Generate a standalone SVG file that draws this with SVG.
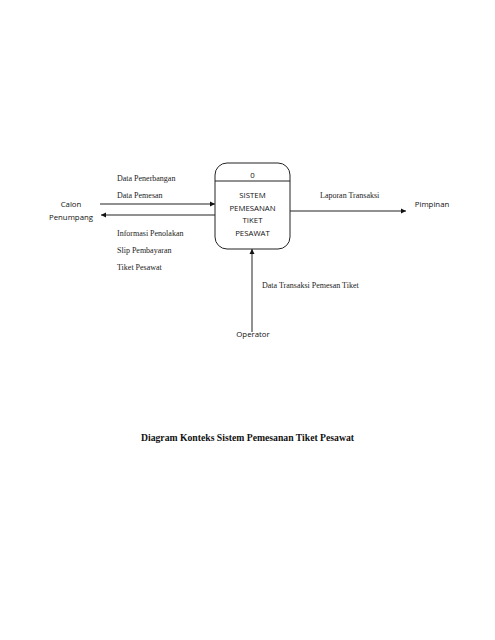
<svg xmlns="http://www.w3.org/2000/svg" width="495" height="640" viewBox="0 0 495 640">
<style>
.lbl{font-family:"Liberation Serif","Times New Roman",serif;font-size:8px;fill:#222}
.ent{font-family:"Open Sans","Liberation Sans",sans-serif;font-size:7.8px;fill:#111}
.ln{stroke:#222;stroke-width:1;fill:none}
.title{font-family:"Liberation Serif","Times New Roman",serif;font-size:9.7px;font-weight:bold;fill:#111}
</style>
<defs>
<marker id="ah" markerWidth="6" markerHeight="6" refX="5" refY="3" orient="auto" markerUnits="userSpaceOnUse">
<path d="M0,0.5 L5,3 L0,5.5 Z" fill="#111"/>
</marker>
</defs>
<rect width="495" height="640" fill="#fff"/>
<g id="connectors">
<line class="ln" x1="100" y1="204" x2="215" y2="204" marker-end="url(#ah)"/>
<line class="ln" x1="215" y1="215" x2="101" y2="215" marker-end="url(#ah)"/>
<line class="ln" x1="290" y1="211" x2="406" y2="211" marker-end="url(#ah)"/>
<line class="ln" x1="252" y1="332" x2="252" y2="249" marker-end="url(#ah)"/>
<text class="lbl" x="117" y="181">Data Penerbangan</text>
<text class="lbl" x="117" y="198">Data Pemesan</text>
<text class="lbl" x="117" y="236">Informasi Penolakan</text>
<text class="lbl" x="117" y="253">Slip Pembayaran</text>
<text class="lbl" x="117" y="270">Tiket Pesawat</text>
<text class="lbl" x="320" y="198">Laporan Transaksi</text>
<text class="lbl" x="262" y="288">Data Transaksi Pemesan Tiket</text>
</g>
<g id="process">
<rect x="215" y="163" width="75" height="86" rx="12" ry="12" fill="#fff" stroke="#222" stroke-width="1"/>
<line class="ln" x1="215" y1="181" x2="290" y2="181"/>
<text class="ent" x="252.5" y="178" text-anchor="middle">0</text>
<text class="ent" x="252.5" y="198" text-anchor="middle">SISTEM</text>
<text class="ent" x="252.5" y="210.5" text-anchor="middle">PEMESANAN</text>
<text class="ent" x="252.5" y="223" text-anchor="middle">TIKET</text>
<text class="ent" x="252.5" y="235.5" text-anchor="middle">PESAWAT</text>
</g>
<g id="calon">
<text class="ent" x="71" y="207" text-anchor="middle">Calon</text>
<text class="ent" x="71" y="220" text-anchor="middle">Penumpang</text>
</g>
<g id="pimpinan">
<text class="ent" x="432" y="207" text-anchor="middle">Pimpinan</text>
</g>
<g id="operator">
<text class="ent" x="253" y="337" text-anchor="middle">Operator</text>
</g>
<text class="title" x="247.5" y="441" text-anchor="middle">Diagram Konteks Sistem Pemesanan Tiket Pesawat</text>
</svg>
